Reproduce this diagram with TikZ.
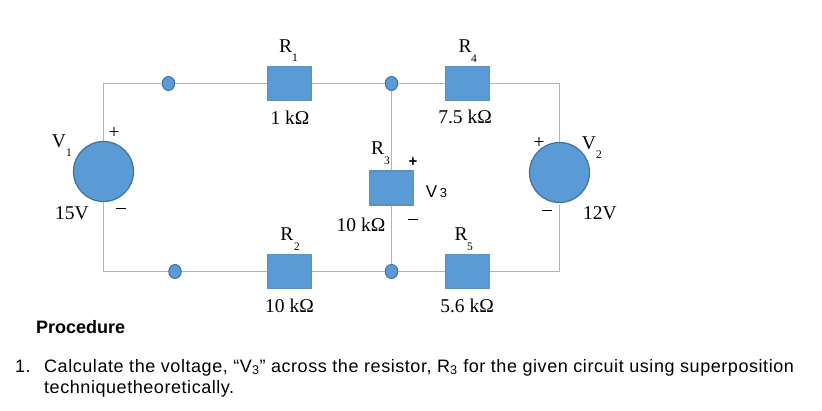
\documentclass[tikz,border=0pt]{standalone}
\usepackage{fontspec}
\setmainfont{Liberation Serif}
\newfontfamily\sansf{Liberation Sans}
\newfontfamily\sansw{Liberation Sans}[LetterSpace=3.1]
\usetikzlibrary{shapes.geometric}
\definecolor{wirec}{HTML}{8FBBE4}
\definecolor{fillc}{HTML}{5B9BD5}
\definecolor{edgec}{HTML}{41719C}
\definecolor{redge}{HTML}{5F8FC0}
\tikzset{
  x=1pt,y=-1pt,
  wire/.style={draw=wirec,line width=1.5pt},
  res/.style={rectangle,draw=redge,fill=fillc,line width=1.3pt,minimum width=44pt,minimum height=34pt,inner sep=0pt},
  src/.style={circle,draw=edgec,fill=fillc,line width=1.2pt,minimum size=60pt,inner sep=0pt},
  dot/.style={ellipse,draw=edgec,fill=fillc,line width=1pt,minimum width=12.5pt,minimum height=14pt,inner sep=0pt},
  lab/.style={font=\fontsize{19.5}{21}\selectfont,inner sep=0pt,anchor=base,text=black},
  sb/.style={font=\fontsize{11.5}{12}\selectfont,inner sep=0pt,anchor=base,text=black},
  txt/.style={font=\sansw\fontsize{18}{20}\selectfont,inner sep=0pt,anchor=base west,text=black}
}
\begin{document}
\begin{tikzpicture}
\useasboundingbox (0,0) rectangle (822,410);
\node[src] (V1) at (103.5,171.5) {};
\node[src] (V2) at (559.5,172.5) {};
\node[dot] (a) at (168.5,83.5) {};
\node[dot] (b) at (391.5,83.5) {};
\node[dot] (c) at (175,271.5) {};
\node[dot] (d) at (391.5,271.5) {};
\node[res] (R1) at (289.5,83.5) {};
\node[res] (R4) at (467.5,83.5) {};
\node[res] (R2) at (289.5,271.5) {};
\node[res] (R5) at (467.5,271.5) {};
\node[res] (R3) at (391.5,188) {};
\coordinate (v2b) at (559.5,205);
\draw[wire] (V1.north) |- (a.west);
\draw[wire] (a.east) -- (R1.west);
\draw[wire] (R1.east) -- (b.west);
\draw[wire] (b.east) -- (R4.west);
\draw[wire] (R4.east) -| (V2.north);
\draw[wire] (V1.south) |- (c.west);
\draw[wire] (c.east) -- (R2.west);
\draw[wire] (R2.east) -- (d.west);
\draw[wire] (d.east) -- (R5.west);
\draw[wire] (R5.east) -| (v2b);
\draw[wire] (b.south) -- (R3.north);
\draw[wire] (R3.south) -- (d.north);
\node[lab] (tR1) at (285.5,52) {R};
\node[sb] (sR1) at (295,61) {1};
\node[lab] (tR4) at (465,52) {R};
\node[sb] (sR4) at (474,62) {4};
\node[lab] (tR2) at (287,240) {R};
\node[sb] (sR2) at (297,250) {2};
\node[lab] (tR5) at (461,240) {R};
\node[sb] (sR5) at (470,250) {5};
\node[lab] (tR3) at (377.5,154) {R};
\node[sb] (sR3) at (387,164) {3};
\node[lab] (tV1) at (59,147) {V};
\node[sb] (sV1) at (69,156) {1};
\node[lab] (tV2) at (589,149) {V};
\node[sb] (sV2) at (599,158) {2};
\node[lab] (t1) at (290,124) {1 kΩ};
\node[lab] (t2) at (465,123) {7.5 kΩ};
\node[lab] (t3) at (361,231) {10 kΩ};
\node[lab] (t4) at (289.5,312) {10 kΩ};
\node[lab] (t5) at (467,312) {5.6 kΩ};
\node[lab] (t6) at (72,219) {15V};
\node[lab] (t7) at (600,219) {12V};
\node[lab] (p1) at (114,138) {+};
\node[lab] (m1) at (120.5,211) {\rule[3pt]{10pt}{.5pt}};
\node[lab] (p2) at (539,148) {+};
\node[lab] (m2) at (547,213) {\rule[3pt]{10pt}{.5pt}};
\node[lab] (m3) at (413,222) {\rule[3pt]{10pt}{.5pt}};
\node[lab,font=\sansf\bfseries\fontsize{15}{17}\selectfont] (p3) at (413,166) {+};
\node[lab,font=\sansf\fontsize{17}{19}\selectfont] (tV3) at (436.5,197) {V\,\raisebox{-.5pt}{\fontsize{13}{14}\selectfont 3}};
\node[txt,font=\sansf\bfseries\fontsize{18}{20}\selectfont] (proc) at (36,333) {Procedure};
\node[txt] (n1) at (15,372) {1.};
\node[txt] (l1) at (44,372) {Calculate the voltage, “V\textsubscript{3}” across the resistor, R\textsubscript{3} for the given circuit using superposition};
\node[txt] (l2) at (44,393) {technique\hspace{-5pt} theoretically.};
\end{tikzpicture}
\end{document}
